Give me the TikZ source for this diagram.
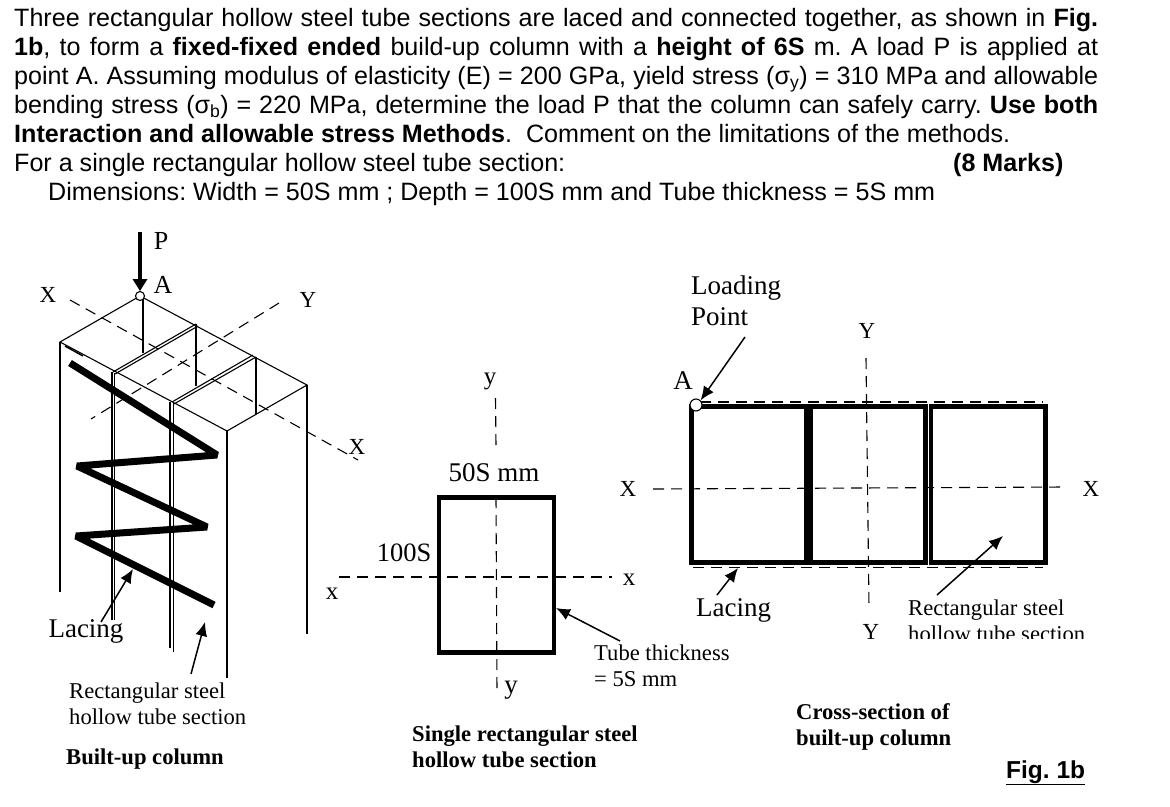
\documentclass[tikz,border=0pt]{standalone}
\usepackage{fontspec}
\setmainfont{Liberation Serif}
\newfontfamily\arialfont{Liberation Sans}
\usetikzlibrary{arrows.meta}
\frenchspacing

\begin{document}
\begin{tikzpicture}[x=1pt,y=-1pt,line cap=butt,
    >={Latex[length=14pt,width=12pt]},
    thin line/.style={line width=1.1pt},
    axis/.style={line width=1.1pt,dash pattern=on 11pt off 7pt},
    lead/.style={line width=1.5pt,->},
    tube/.style={line width=4.6pt},
    lacing/.style={line width=7pt,line join=bevel},
    lbl/.style={font=\fontsize{23}{26}\selectfont,inner sep=0pt},
    biglbl/.style={font=\fontsize{27}{31}\selectfont,inner sep=0pt,align=left},
    small/.style={font=\fontsize{22.6}{26}\selectfont,inner sep=0pt,align=left},
    title/.style={font=\fontsize{22.6}{26}\selectfont\bfseries,inner sep=0pt,align=left},
    body/.style={font=\arialfont\fontsize{25.1}{29}\selectfont,inner sep=0pt,anchor=base west},
    pin/.style={circle,draw,fill=white,line width=1.1pt,inner sep=0pt},
]
    \useasboundingbox (0,0) rectangle (1170,806);
    % question text
    \node [body,text width=1084pt,align=justify,anchor=north west] (question) at (14,8) {Three rectangular hollow steel tube sections are laced and connected together, as shown in \textbf{Fig.}\linebreak
    \textbf{1b}, to form a \textbf{fixed-fixed ended} build-up column with a \textbf{height of 6S} m. A load P is applied at\linebreak
    point A. Assuming modulus of elasticity (E) = 200 GPa, yield stress (σ\textsubscript{y}) = 310 MPa and allowable\linebreak
    bending stress (σ\textsubscript{b}) = 220 MPa, determine the load P that the column can safely carry. \textbf{Use both}\linebreak
    \textbf{Interaction and allowable stress Methods}.\ \ Comment on the limitations of the methods.};
    \node [body] (single) at (14,171) {For a single rectangular hollow steel tube section:};
    \node [body] (marks) at (953,171) {\textbf{(8 Marks)}};
    \node [body] (dims) at (48,200) {Dimensions: Width = 50S mm ; Depth = 100S mm and Tube thickness = 5S mm};

    % built-up column
    \coordinate (A) at (140,296);
    \coordinate (L) at (60,342);
    \coordinate (R) at (307,385);
    \coordinate (F) at (227,431);
    \coordinate (ridgeA) at (113,372);
    \coordinate (ridgeB) at (196,324);
    \coordinate (ridgeC) at (172,402);
    \coordinate (ridgeD) at (253,355);
    \draw [thin line] (A) -- (L) -- (F) -- (R) -- (A);
    \draw [thin line] (ridgeA) -- (ridgeB);
    \draw [thin line] (115,374) -- (198,326);
    \draw [thin line] (ridgeC) -- (ridgeD);
    \draw [thin line] (174,404) -- (256,357);
    \draw [line width=1.5pt] (65,346) -- (83,356);
    \draw [thin line] (143,296) -- (143,353);
    \draw [thin line] (196,324) -- (196,386);
    \draw [thin line] (256,357) -- (256,414);
    \draw [thin line] (L) -- (60,592);
    \draw [thin line] (112,372) -- (112,620);
    \draw [thin line] (114.5,373) -- (114.5,620);
    \draw [thin line] (170,402) -- (170,648);
    \draw [thin line] (173.5,403) -- (173.5,652);
    \draw [thin line] (F) -- (227,678);
    \draw [thin line] (R) -- (307,634);
    \draw [axis] (70,300) -- (358,460);
    \draw [axis] (279,303) -- (91,419);
    \draw [lacing] (70,363) -- (217,455) -- (77,466) -- (207,527) -- (76,536) -- (214,605);
    \node [pin,minimum size=9pt] (loadA) at (A) {};
    \coordinate (loadtop) at (140,232);
    \coordinate (headbase) at (140,281);
    \coordinate (headleft) at (132.5,279);
    \coordinate (headright) at (147.5,279);
    \draw [line width=4pt] (loadtop) -- (headbase);
    \fill (headleft) -- (headright) -- (loadA.north) -- cycle;
    \node [lbl,font=\fontsize{26}{29}\selectfont] (labelP) at (161,241) {P};
    \node [lbl,font=\fontsize{26}{29}\selectfont] (labelA) at (163,285) {A};
    \node [lbl] (labelX1) at (48,295) {X};
    \node [lbl] (labelY1) at (308,300) {Y};
    \node [lbl] (labelX2) at (357,447) {X};
    \node [biglbl] (lacing1) at (86,631) {Lacing};
    \coordinate (lacingtip) at (133,569);
    \draw [lead] (101,622) -- (lacingtip);
    \coordinate (tubetip) at (205,622);
    \draw [lead] (191,674) -- (tubetip);
    \node [small,anchor=base west] (tube1) at (69,724) {Rectangular steel\\hollow tube section};
    \node [title,anchor=base west] (title1) at (66,764) {Built-up column};

    % single section
    \node [draw,tube,minimum width=115pt,minimum height=155pt,inner sep=0pt,outer sep=0pt] (box) at (496.5,575) {};
    \draw [axis] (495.5,398) -- (496,446);
    \draw [axis] (496,497) -- (497,693);
    \draw [axis] (339,577) -- (612,577);
    \node [lbl,font=\fontsize{25}{29}\selectfont] (labely1) at (490,381) {y};
    \node [lbl,font=\fontsize{27}{29}\selectfont] (width) at (494,473) {50S mm};
    \node [lbl,font=\fontsize{26.5}{29}\selectfont] (depth) at (404,553) {100S};
    \node [lbl,font=\fontsize{25}{29}\selectfont] (labelx1) at (332,594) {x};
    \node [lbl,font=\fontsize{25}{29}\selectfont] (labelx2) at (629,580) {x};
    \node [lbl,font=\fontsize{27}{29}\selectfont] (labely2) at (511,690) {y};
    \coordinate (thicktip) at (556,608);
    \draw [lead] (620,641) -- (thicktip);
    \node [small,anchor=base west] (thick) at (594,686) {Tube thickness\\= 5S mm};
    \node [title,anchor=base west] (title2) at (412,767) {Single rectangular steel\\hollow tube section};

    % cross-section
    \draw [tube] (691.3,406.3) rectangle (806.2,562.7);
    \draw [tube] (810.8,406.3) rectangle (925.2,562.7);
    \draw [tube] (930.8,406.3) rectangle (1045.7,562.7);
    \draw [axis] (700,402) -- (1043,402);
    \draw [axis] (693,567.5) -- (1043,567.5);
    \draw [axis] (653,489) -- (1065,487);
    \draw [axis] (866,358) -- (869,607);
    \node [pin,minimum size=12pt] (loadB) at (696,405) {};
    \coordinate (loadstart) at (745,337);
    \draw [lead] (loadstart) -- (loadB.north east);
    \node [lbl,font=\fontsize{27}{29}\selectfont] (labelA2) at (683,381) {A};
    \node [biglbl,anchor=base west] (loading) at (691,325) {Loading\\Point};
    \node [lbl] (labelX3) at (628,489) {X};
    \node [lbl] (labelX4) at (1091,489) {X};
    \node [lbl] (labelY2) at (867,331) {Y};
    \node [lbl] (labelY3) at (871,632) {Y};
    \node [biglbl,anchor=base west] (lacing2) at (696,616) {Lacing};
    \coordinate (lacingtip2) at (738,568);
    \draw [lead] (717,595) -- (lacingtip2);
    \coordinate (tubetip2) at (1003,536);
    \draw [lead] (937,595) -- (tubetip2);
    \begin{scope}
        \clip (900,590) rectangle (1100,638.5);
        \node [small,anchor=base west] (tube2) at (908,641) {Rectangular steel\\hollow tube section};
    \end{scope}
    \node [title,anchor=base west] (title3) at (796,745) {Cross-section of\\built-up column};
    \node [body,font=\arialfont\bfseries\fontsize{24.5}{29}\selectfont] (fig) at (1006,778) {\underline{Fig. 1b}};
\end{tikzpicture}
\end{document}
